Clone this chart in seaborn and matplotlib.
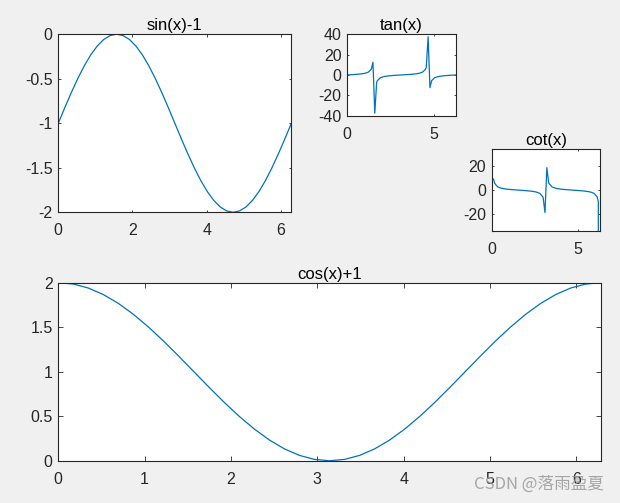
import numpy as np
import pandas as pd
import matplotlib
matplotlib.use("Agg")
import matplotlib.pyplot as plt
import seaborn as sns
from matplotlib.ticker import FuncFormatter

# sin / cos sampled every 10 degrees
grid_deg = list(range(0, 361, 10))
sin_minus_1 = [-1.0000, -0.8264, -0.6580, -0.5000, -0.3572, -0.2340, -0.1340, -0.0603, -0.0152,
               0.0000, -0.0152, -0.0603, -0.1340, -0.2340, -0.3572, -0.5000, -0.6580, -0.8264,
               -1.0000, -1.1736, -1.3420, -1.5000, -1.6428, -1.7660, -1.8660, -1.9397, -1.9848,
               -2.0000, -1.9848, -1.9397, -1.8660, -1.7660, -1.6428, -1.5000, -1.3420, -1.1736,
               -1.0000]
cos_plus_1 = [2.0000, 1.9848, 1.9397, 1.8660, 1.7660, 1.6428, 1.5000, 1.3420, 1.1736,
              1.0000, 0.8264, 0.6580, 0.5000, 0.3572, 0.2340, 0.1340, 0.0603, 0.0152,
              0.0000, 0.0152, 0.0603, 0.1340, 0.2340, 0.3572, 0.5000, 0.6580, 0.8264,
              1.0000, 1.1736, 1.3420, 1.5000, 1.6428, 1.7660, 1.8660, 1.9397, 1.9848,
              2.0000]

# tan(x): x in radians, extra samples around the asymptotes
tan_x = [0.0000, 0.1745, 0.3491, 0.5236, 0.6981, 0.8727, 1.0472, 1.2217, 1.3963, 1.4909,
         1.5974, 1.7039, 1.7453, 1.9199, 2.0944, 2.2689, 2.4435, 2.6180, 2.7925, 2.9671,
         3.1416, 3.3161, 3.4907, 3.6652, 3.8397, 4.0143, 4.1888, 4.3633, 4.5379, 4.5792,
         4.6857, 4.7922, 4.8869, 5.0615, 5.2360, 5.4105, 5.5851, 5.7596, 5.9341, 6.1087,
         6.2832]
tan_y = [0.0, 0.1763, 0.3640, 0.5774, 0.8391, 1.1918, 1.7321, 2.7475, 5.6713, 12.49,
         -37.56, -7.47, -5.6713, -2.7475, -1.7321, -1.1918, -0.8391, -0.5774, -0.3640, -0.1763,
         0.0, 0.1763, 0.3640, 0.5774, 0.8391, 1.1918, 1.7321, 2.7475, 5.6713, 7.47,
         37.56, -12.49, -5.6713, -2.7475, -1.7321, -1.1918, -0.8391, -0.5774, -0.3640, -0.1763,
         0.0]

# cot(x): starts after x=0 (infinite there), last point runs off the bottom
cot_x = [0.1065, 0.1745, 0.3491, 0.5236, 0.6981, 0.8727, 1.0472, 1.2217, 1.3963, 1.5708,
         1.7453, 1.9199, 2.0944, 2.2689, 2.4435, 2.6180, 2.7925, 2.9671, 2.9818, 3.0883,
         3.1948, 3.3013, 3.3161, 3.4907, 3.6652, 3.8397, 4.0143, 4.1888, 4.3633, 4.5379,
         4.7124, 4.8869, 5.0615, 5.2360, 5.4105, 5.5851, 5.7596, 5.9341, 6.1087, 6.1767,
         6.2832]
cot_y = [9.355, 5.6713, 2.7475, 1.7321, 1.1918, 0.8391, 0.5774, 0.3640, 0.1763, 0.0,
         -0.1763, -0.3640, -0.5774, -0.8391, -1.1918, -1.7321, -2.7475, -5.6713, -6.20, -18.76,
         18.76, 6.20, 5.6713, 2.7475, 1.7321, 1.1918, 0.8391, 0.5774, 0.3640, 0.1763,
         0.0, -0.1763, -0.3640, -0.5774, -0.8391, -1.1918, -1.7321, -2.7475, -5.6713, -9.355,
         -1.0e6]

grid_rad = np.radians(grid_deg)

sns.set_style("ticks")
plt.rcParams["font.family"] = ["Liberation Sans", "DejaVu Sans"]
plt.rcParams["axes.unicode_minus"] = False

line_color = "#0072BD"
edge = "#262626"

fig = plt.figure(figsize=(6.2, 5.03), dpi=100)
fig.patch.set_facecolor("#F0F0F0")

ax_sin = fig.add_axes([0.094, 0.578, 0.376, 0.354])
ax_tan = fig.add_axes([0.560, 0.770, 0.175, 0.162])
ax_cot = fig.add_axes([0.793, 0.541, 0.175, 0.162])
ax_cos = fig.add_axes([0.094, 0.084, 0.875, 0.354])

sns.lineplot(x=grid_rad, y=sin_minus_1, ax=ax_sin, color=line_color, linewidth=0.9)
sns.lineplot(x=tan_x, y=tan_y, ax=ax_tan, color=line_color, linewidth=0.9)
sns.lineplot(x=cot_x, y=cot_y, ax=ax_cot, color=line_color, linewidth=0.9)
sns.lineplot(x=grid_rad, y=cos_plus_1, ax=ax_cos, color=line_color, linewidth=0.9)

fmt = FuncFormatter(lambda v, p: "%g" % v)

setup = [
    (ax_sin, "sin(x)-1", (-2, 0), [0, 2, 4, 6], [-2, -1.5, -1, -0.5, 0], 1.8),
    (ax_tan, "tan(x)", (-40, 40), [0, 5], [-40, -20, 0, 20, 40], 1.1),
    (ax_cot, "cot(x)", (-34, 34), [0, 5], [-20, 0, 20], 1.1),
    (ax_cos, "cos(x)+1", (0, 2), [0, 1, 2, 3, 4, 5, 6], [0, 0.5, 1, 1.5, 2], 3.9),
]
for ax, title, ylim, xt, yt, tl in setup:
    ax.set_facecolor("white")
    ax.set_xlim(0, 2 * np.pi)
    ax.set_ylim(*ylim)
    ax.set_xticks(xt)
    ax.set_yticks(yt)
    ax.xaxis.set_major_formatter(fmt)
    ax.yaxis.set_major_formatter(fmt)
    ax.set_xlabel("")
    ax.set_ylabel("")
    for s in ax.spines.values():
        s.set_visible(True)
        s.set_color(edge)
        s.set_linewidth(0.8)
    ax.tick_params(axis="both", direction="in", top=True, right=True, length=tl,
                   width=0.6, color=edge, labelcolor=edge, labelsize=11.5)
    ax.tick_params(axis="x", pad=8)
    ax.tick_params(axis="y", pad=4)
    ax.set_title(title, fontsize=12, color="black", pad=3)

fig.text(0.974, 0.038, "CSDN @落雨盈夏", ha="right", va="center", fontsize=12,
         color="#999999", alpha=0.85, family=["Noto Sans CJK SC", "DejaVu Sans"])

fig.savefig("out.png", dpi=100, facecolor=fig.get_facecolor())
